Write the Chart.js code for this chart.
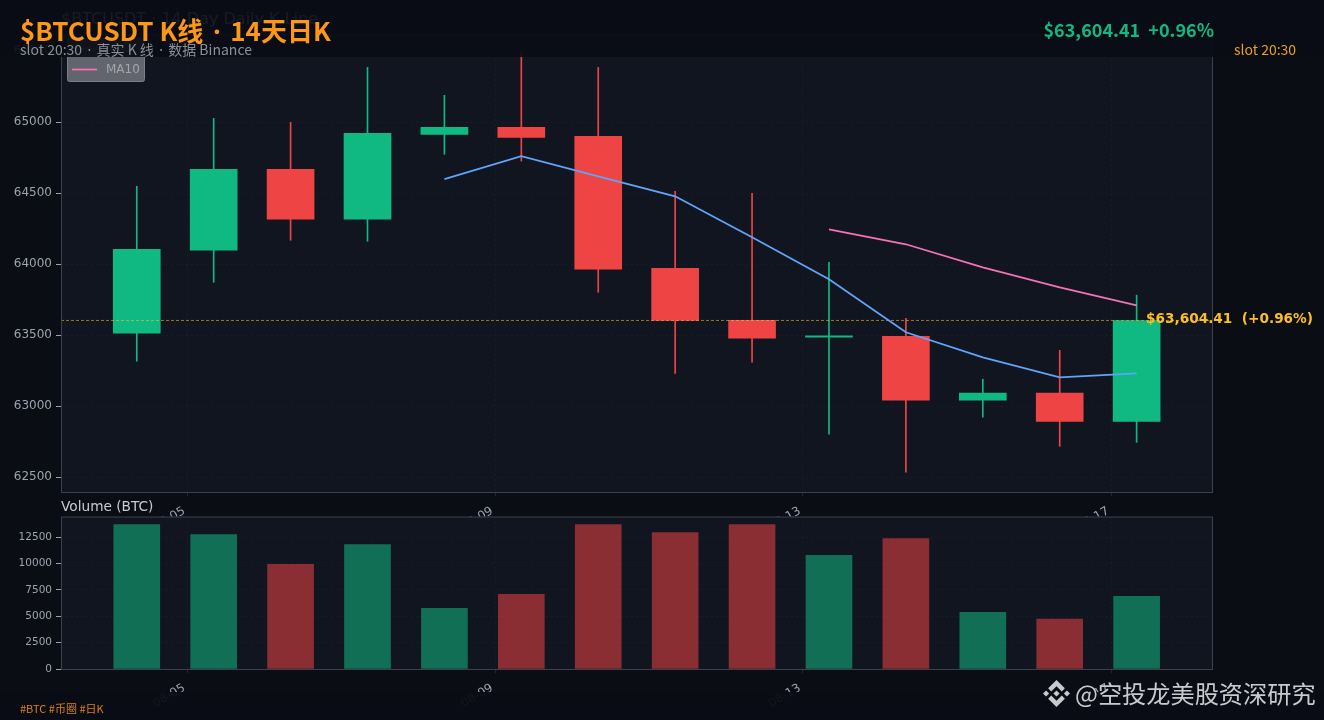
<!DOCTYPE html>
<html>
<head>
<meta charset="utf-8">
<script src="https://cdn.jsdelivr.net/npm/chart.js@4"></script>
<style>
html, body { margin: 0; padding: 0; width: 1324px; height: 720px; background: #0a0d14; overflow: hidden; }
canvas { position: absolute; left: 0; }
#mainChart { top: 0; }
#volChart { top: 498px; }
.txt { position: absolute; font-family: "Noto Sans CJK SC", "Noto Sans", sans-serif; white-space: pre; }
.dot { display: inline-block; width: 0.58em; text-align: center; font-family: "Noto Sans", sans-serif; }
#topShade { position: absolute; left: 0; top: 0; width: 1324px; height: 57px; background: rgba(10, 13, 20, 0.93); }
#bottomShade { position: absolute; left: 0; top: 692px; width: 1324px; height: 28px; background: rgba(10, 13, 20, 0.95); }
</style>
</head>
<body>
<canvas id="mainChart"></canvas>
<canvas id="volChart"></canvas>
<div id="topShade"></div>
<div id="bottomShade"></div>
<div class="txt" style="left:20px;top:11px;font-size:26px;font-weight:700;line-height:38px;color:#ff9716">$BTCUSDT K线 <span class="dot">·</span> 14天日K</div>
<div class="txt" style="left:20px;top:39px;font-size:14px;line-height:20px;color:#8b909a">slot 20:30 <span class="dot">·</span> 真实 K 线 <span class="dot">·</span> 数据 Binance</div>
<div class="txt" style="right:110px;top:15px;font-size:18px;font-weight:600;line-height:28px;color:#10b981">$63,604.41  +0.96%</div>
<div class="txt" style="left:1234px;top:39px;font-size:14px;line-height:20px;color:#e9a020">slot 20:30</div>
<div class="txt" style="left:20px;top:700px;font-size:11px;line-height:16px;color:#d9820f">#BTC #币圈 #日K</div>
<svg style="position:absolute;left:1043px;top:680px" width="27" height="27" viewBox="0 0 125.5 125.5" fill="#c9cacc">
<path d="M38.171 53.203L62.759 28.616l24.6 24.6 14.307-14.307L62.759 0 23.864 38.896z"/>
<path d="M0 62.759l14.307-14.307 14.307 14.307-14.307 14.307z"/>
<path d="M38.171 72.314l24.588 24.588 24.6-24.6 14.315 14.3-38.915 38.908-38.895-38.892-.02-.02z"/>
<path d="M96.904 62.759l14.307-14.307 14.307 14.307-14.307 14.307z"/>
<path d="M77.271 62.75l-14.512-14.52-10.73 10.73-1.234 1.233-2.542 2.543 14.506 14.499 14.512-14.52.006-.007z"/>
</svg>
<div class="txt" style="left:1075px;top:676px;font-size:24.2px;line-height:34px;color:#c9cacc">@空投龙美股资深研究</div>

<script>
// candles
const opens  = [63514, 64099, 64669, 64317, 64915, 64965, 64901, 63972, 63606, 63486, 63493, 63042, 63092, 62894];
const closes = [64106, 64669, 64317, 64923, 64965, 64894, 63965, 63604, 63479, 63496, 63042, 63092, 62894, 63604];
const highs  = [64549, 65028, 65000, 65387, 65190, 65500, 65387, 64514, 64500, 64014, 63620, 63190, 63394, 63782];
const lows   = [63317, 63873, 64169, 64162, 64775, 64727, 63803, 63232, 63310, 62803, 62535, 62923, 62718, 62746];
const ma5    = [null, null, null, null, 64599, 64761, 64620, 64479, 64190, 63894, 63521, 63345, 63204, 63232];
const ma10   = [null, null, null, null, null, null, null, null, null, 64246, 64141, 63979, 63838, 63711];
const volumes = [13679, 12736, 9906, 11792, 5755, 7075, 13679, 12925, 13679, 10755, 12358, 5377, 4717, 6887];

const lastPrice = 63604.41;
const lastLabel = "$63,604.41  (+0.96%)";
const xTickPos = [0.656, 4.66, 8.66, 12.67];
const xTickLabels = ["08-05", "08-09", "08-13", "08-17"];
const priceTicks = [62500, 63000, 63500, 64000, 64500, 65000, 65500];
const volTicks = [0, 2500, 5000, 7500, 10000, 12500];

const GREEN = "#10b981";
const RED = "#ef4444";
const FONT = "'DejaVu Sans'";
const xMin = -0.985, xMax = 13.98;

const candleColor = opens.map((o, i) => closes[i] >= o ? GREEN : RED);
const volColor = opens.map((o, i) => closes[i] >= o ? "rgba(16,185,129,0.55)" : "rgba(239,68,68,0.55)");

// dark plot background + frame
const panel = {
    id: "panel",
    beforeDraw(chart) {
        const a = chart.chartArea, c = chart.ctx;
        c.save();
        c.fillStyle = "#111520";
        c.fillRect(a.left, a.top, a.width, a.height);
        c.restore();
    },
    afterDraw(chart) {
        const a = chart.chartArea, c = chart.ctx;
        c.save();
        c.strokeStyle = "#3b4150";
        c.lineWidth = 1;
        c.strokeRect(a.left + 0.5, a.top + 0.5, a.width, a.height);
        c.restore();
    }
};

// legend box and last price label
const overlay = {
    id: "overlay",
    afterDatasetsDraw(chart) {
        const c = chart.ctx;
        const mas = chart.data.datasets.filter(d => d.label);
        c.save();
        c.fillStyle = "#62656e";
        c.strokeStyle = "#7c7f88";
        c.beginPath();
        c.roundRect(67.5, 38.5, 77, 43, 2);
        c.fill();
        c.stroke();
        c.font = "12px " + FONT;
        c.textBaseline = "middle";
        mas.forEach((d, i) => {
            const y = 48.5 + i * 21;
            c.strokeStyle = d.borderColor;
            c.lineWidth = 1.8;
            c.beginPath();
            c.moveTo(72, y);
            c.lineTo(97, y);
            c.stroke();
            c.fillStyle = "#a3a5ab";
            c.fillText(d.label, 106, y);
        });
        c.font = "bold 13.65px " + FONT;
        c.fillStyle = "#fbbf24";
        c.fillText(lastLabel, 1146, chart.scales.y.getPixelForValue(lastPrice) - 1);
        c.restore();
    }
};

function xScale(extra) {
    return Object.assign({
        type: "linear",
        min: xMin,
        max: xMax,
        offset: false,
        afterBuildTicks(s) { s.ticks = xTickPos.map(v => ({ value: v })); },
        grid: { offset: false, color: "rgba(255,255,255,0.03)", tickColor: "#23262e", tickLength: 4 },
        border: { display: false, dash: [2, 3] },
        ticks: {
            autoSkip: false, minRotation: 30, maxRotation: 30, padding: 8, labelOffset: -3,
            color: "#9ca3af", font: { family: FONT, size: 12 },
            callback: (v, i) => xTickLabels[i]
        }
    }, extra);
}

function yScale(tickList, min, max, width, size) {
    return {
        min: min,
        max: max,
        afterBuildTicks(s) { s.ticks = tickList.map(v => ({ value: v })); },
        afterFit(s) { s.width = width; },
        grid: { color: "rgba(255,255,255,0.03)", tickColor: "#9ca3af", tickLength: 5 },
        border: { display: false, dash: [2, 3] },
        ticks: { color: "#9ca3af", padding: 4, font: { family: FONT, size: size }, callback: v => String(v) }
    };
}

function makeCanvas(id, w, h) {
    const el = document.getElementById(id);
    el.width = w;
    el.height = h;
    el.style.width = w + "px";
    el.style.height = h + "px";
    return el;
}

new Chart(makeCanvas("mainChart", 1324, 520), {
    type: "bar",
    data: {
        datasets: [
            {
                data: highs.map((h, i) => ({ x: i, y: [lows[i], h] })),
                backgroundColor: candleColor, barThickness: 1, order: 5, grouped: false
            },
            {
                data: opens.map((o, i) => ({ x: i, y: [o, closes[i]] })),
                backgroundColor: candleColor, barThickness: 47, order: 4, grouped: false
            },
            {
                type: "line",
                data: [{ x: xMin, y: lastPrice }, { x: xMax, y: lastPrice }],
                borderColor: "rgba(251,191,36,0.75)", borderWidth: 0.8, borderDash: [3, 2], pointRadius: 0, order: 3
            },
            {
                type: "line", label: "MA5",
                data: ma5.map((v, i) => ({ x: i, y: v })),
                borderColor: "#60a5fa", borderWidth: 1.8, pointRadius: 0, tension: 0, order: 2
            },
            {
                type: "line", label: "MA10",
                data: ma10.map((v, i) => ({ x: i, y: v })),
                borderColor: "#f472b6", borderWidth: 1.8, pointRadius: 0, tension: 0, order: 1
            }
        ]
    },
    options: {
        responsive: false,
        animation: false,
        layout: { padding: { right: 112, left: 0, top: 0, bottom: 0 } },
        plugins: {
            legend: { display: false },
            tooltip: { enabled: false },
            title: {
                display: true, fullSize: false, align: "start",
                text: "$BTCUSDT · 14 Day Daily K Line",
                color: "#c9ccd3", font: { family: FONT, size: 16, weight: "normal" },
                padding: { top: 10, bottom: 4.8 }
            }
        },
        scales: {
            x: xScale({ afterFit(s) { s.height = 28; } }),
            y: yScale(priceTicks, 62396, 65622, 61, 12)
        }
    },
    plugins: [panel, overlay]
});

new Chart(makeCanvas("volChart", 1324, 222), {
    type: "bar",
    data: {
        datasets: [{
            data: volumes.map((v, i) => ({ x: i, y: v })),
            backgroundColor: volColor, barThickness: 46
        }]
    },
    options: {
        responsive: false,
        animation: false,
        layout: { padding: { right: 112, left: 0, top: 0, bottom: 0 } },
        plugins: {
            legend: { display: false },
            tooltip: { enabled: false },
            title: {
                display: true, fullSize: false, align: "start",
                text: "Volume (BTC)",
                color: "#c9ccd3", font: { family: FONT, size: 13.7, weight: "normal" },
                padding: { top: 1, bottom: 1.1 }
            }
        },
        scales: {
            x: xScale({ afterFit(s) { s.height = 51; } }),
            y: yScale(volTicks, 0, 14440, 61, 10.5)
        }
    },
    plugins: [panel]
});
</script>
</body>
</html>
